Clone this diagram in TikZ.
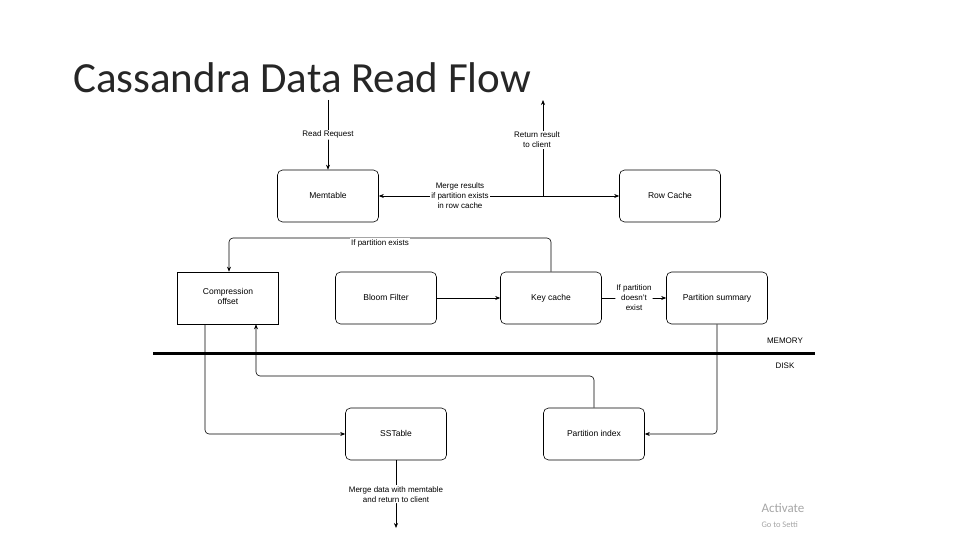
\documentclass[tikz,border=0pt]{standalone}
\usepackage{fontspec}
\setmainfont{Liberation Sans}
\newfontfamily\titlefont{Carlito}
\usetikzlibrary{arrows.meta}
\begin{document}
\begin{tikzpicture}[x=1pt,y=-1pt,
  box/.style={draw,rounded corners=5pt,minimum width=101pt,minimum height=52pt,font=\fontsize{8.5}{10}\selectfont,align=center,line width=0.6pt,execute at begin node=\strut},
  lbl/.style={font=\fontsize{8}{10}\selectfont,align=center,fill=white,inner sep=1pt},
  con/.style={line width=0.6pt,-{Stealth[length=5pt,width=4pt]},rounded corners=4pt}]
\useasboundingbox (0,0) rectangle (960,540);
\node[anchor=base west,font=\titlefont\fontsize{43}{48}\selectfont,text=black!85,inner sep=0pt] (title) at (73,93) {Cassandra Data Read Flow};
\node[box] (mem) at (328,196) {Memtable};
\node[box] (row) at (670,196) {Row Cache};
\node[box,rounded corners=0pt] (comp) at (228,298) {Compression\\offset};
\node[box] (bloom) at (386,298) {Bloom Filter};
\node[box] (key) at (551,298) {Key cache};
\node[box] (psum) at (717,298) {Partition summary};
\node[box] (ss) at (396,434) {SSTable};
\node[box] (pidx) at (594,434) {Partition index};
\coordinate (rin) at (328,100);
\coordinate (rout) at (543,100);
\coordinate (mout) at (396,528);
\draw[con] (rin) -- node[lbl,pos=0.5]{Read Request} (mem);
\draw[con,{Stealth[length=5pt,width=4pt]}-{Stealth[length=5pt,width=4pt]}] (mem) -- (row);
\node[lbl] (mlbl) at (460,196) {Merge results\\if partition exists\\in row cache};
\draw[con] (543,196) -- (rout);
\node[lbl] (rlbl) at (537,140) {Return result\\to client};
\draw[con] (key.north) |- (229,238) -- (comp.north -| 229,0);
\node[lbl] (plbl) at (380,243) {If partition exists};
\draw[con] (bloom) -- (key);
\draw[con] (key) -- node[lbl]{If partition\\doesn't\\exist} (psum);
\draw[con] (psum.south) |- (pidx.east);
\draw[con] (pidx.north) |- (256,376) -- (comp.south -| 256,0);
\draw[con] (comp.south -| 205,0) |- (ss.west);
\draw[con] (ss.south) -- node[lbl,pos=0.5]{Merge data with memtable\\and return to client} (mout);
\draw[line width=3pt] (153,353) -- (815,353);
\node[font=\fontsize{8}{10}\selectfont] (memlbl) at (785,341) {MEMORY};
\node[font=\fontsize{8}{10}\selectfont] (disklbl) at (785,366) {DISK};
\node[anchor=west,font=\titlefont\fontsize{13}{15}\selectfont,text=black!35] (act) at (758,508) {Activate};
\node[anchor=west,font=\titlefont\fontsize{8.5}{10}\selectfont,text=black!35] (goto) at (758,525) {Go to Setti};
\end{tikzpicture}
\end{document}
